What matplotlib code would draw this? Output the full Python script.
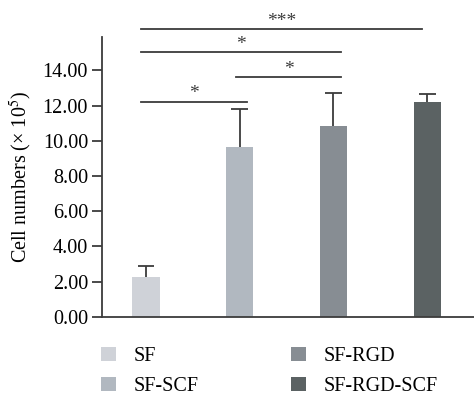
import numpy as np
import matplotlib.pyplot as plt
from matplotlib.patches import Patch

plt.rcParams['font.family'] = ['Liberation Serif', 'DejaVu Serif']
plt.rcParams['mathtext.fontset'] = 'stix'

# data
groups = ['SF', 'SF-SCF', 'SF-RGD', 'SF-RGD-SCF']
means = [2.27, 9.66, 10.83, 12.21]
errs = [0.61, 2.12, 1.86, 0.44]
colors = ['#cfd2d8', '#b1b8c0', '#878d93', '#5b6263']

# significance brackets: (start group, end group, height, label)
sig_pairs = [(0, 1, 12.22, '*'), (1, 2, 13.62, '*'), (0, 2, 15.04, '*'), (0, 3, 16.33, '***')]

ink = '#3c3c3c'

fig = plt.figure(figsize=(4.74, 3.97), dpi=100)
ax = fig.add_axes([0.215, 0.202, 0.785, 0.705])

x = np.arange(len(groups))
tops = np.array(means) + np.array(errs)
# upper error bars only
ax.vlines(x, means, tops, color=ink, lw=1.3, zorder=1)
ax.hlines(tops, x - 0.09, x + 0.09, color=ink, lw=1.3, zorder=1)
ax.bar(x, means, width=0.29, color=colors, zorder=2)

ax.set_xlim(-0.47, 3.5)
ax.set_ylim(0, 15.9)
ax.set_yticks(np.arange(0, 15, 2))
ax.set_yticklabels(['%.2f' % v for v in np.arange(0, 15, 2)], fontsize=14.5)
ax.set_xticks([])
ax.set_ylabel('Cell numbers (× 10$^5$)', fontsize=14.5, labelpad=6)

for s in ['top', 'right']:
    ax.spines[s].set_visible(False)
for s in ['left', 'bottom']:
    ax.spines[s].set_color(ink)
    ax.spines[s].set_linewidth(1.3)
ax.tick_params(axis='y', length=7, width=1.3, color=ink, pad=3)

# significance lines
for a, b, h, lab in sig_pairs:
    x0 = a - 0.05 if a == 0 else a - 0.04
    x1 = b + 0.08 if b != 3 else b - 0.06
    ax.plot([x0, x1], [h, h], color=ink, lw=1.3, clip_on=False)
    ax.text((x0 + x1) / 2, h + 0.45, lab, ha='center', va='center',
            fontsize=14, color=ink, clip_on=False)

handles = [Patch(facecolor=c, edgecolor='none', label=g) for g, c in zip(groups, colors)]
fig.legend(handles=handles, loc='upper left', bbox_to_anchor=(0.175, 0.172),
           ncol=2, frameon=False, fontsize=14.5, handlelength=0.75,
           handleheight=0.7, handletextpad=0.85, columnspacing=4.6,
           labelspacing=0.55)

fig.savefig('out.png', dpi=100)
